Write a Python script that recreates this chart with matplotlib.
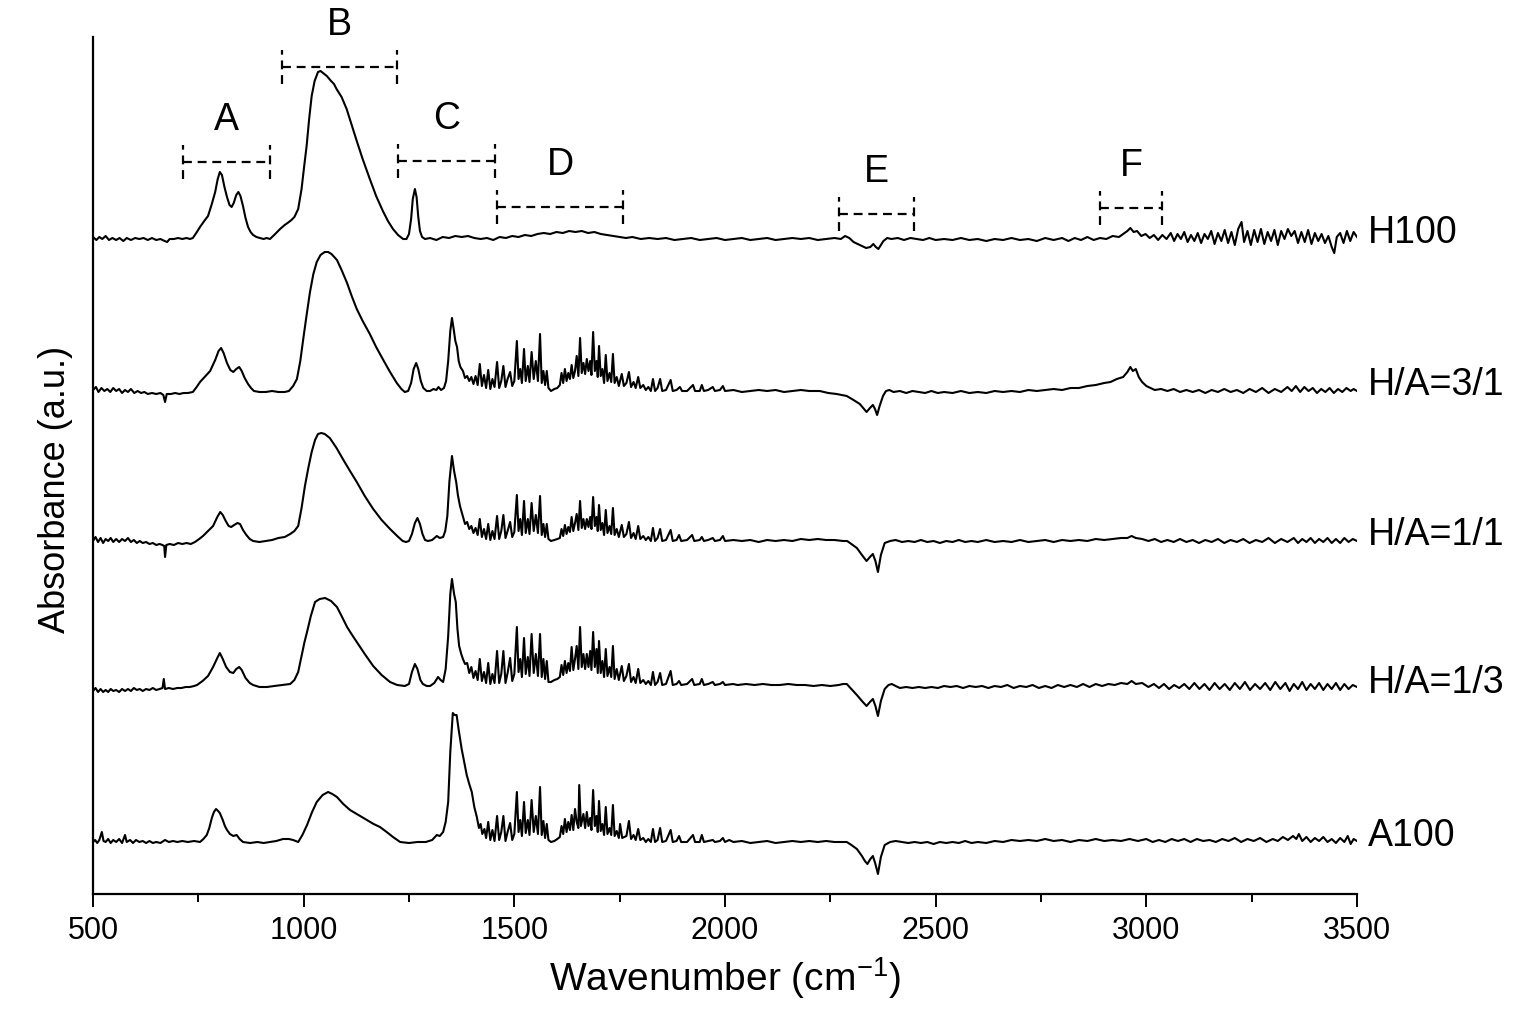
import numpy as np
import matplotlib
matplotlib.use("Agg")
import matplotlib.pyplot as plt
from matplotlib.ticker import MultipleLocator

plt.rcParams['font.family'] = ['Liberation Sans', 'DejaVu Sans']
plt.rcParams['mathtext.fontset'] = 'custom'
plt.rcParams['mathtext.rm'] = 'Liberation Sans'

# spectra: (wavenumber cm-1, absorbance a.u. above own baseline)
h100 = [
    (500, 0.02), (508, -0.01), (515, 0.02), (522, 0.0), (530, 0.03), (538, -0.01), (546, 0.01), (555, -0.01),
    (563, 0.01), (572, -0.02), (580, 0.01), (590, -0.01), (600, 0.01), (610, 0.0), (620, 0.01), (630, -0.01),
    (640, 0.01), (650, -0.01), (660, 0.0), (670, -0.02), (676, -0.03), (682, 0.0), (692, 0.0), (702, 0.01),
    (712, 0.0), (722, 0.01), (730, 0.0), (737, 0.01), (745, 0.06), (754, 0.12), (764, 0.18), (773, 0.23),
    (782, 0.35), (790, 0.47), (796, 0.60), (801, 0.67), (806, 0.64), (812, 0.52), (818, 0.42), (824, 0.34),
    (829, 0.32), (834, 0.36), (840, 0.44), (845, 0.47), (850, 0.43), (856, 0.33), (862, 0.21), (868, 0.12),
    (874, 0.07), (880, 0.04), (888, 0.02), (896, 0.01), (905, 0.0), (912, 0.01), (920, 0.0), (930, 0.04),
    (944, 0.10), (955, 0.14), (965, 0.17), (971, 0.19), (978, 0.22), (987, 0.30), (995, 0.50), (1001, 0.72),
    (1007, 0.93), (1013, 1.20), (1019, 1.43), (1026, 1.58), (1034, 1.67), (1040, 1.68), (1046, 1.66),
    (1055, 1.63), (1065, 1.58), (1072, 1.55), (1078, 1.50), (1090, 1.42), (1102, 1.30), (1114, 1.14),
    (1126, 0.98), (1140, 0.80), (1157, 0.60), (1172, 0.43), (1188, 0.28), (1200, 0.18), (1212, 0.10),
    (1224, 0.04), (1236, 0.0), (1244, 0.0), (1250, 0.05), (1255, 0.20), (1259, 0.40), (1264, 0.50),
    (1268, 0.42), (1272, 0.22), (1276, 0.08), (1281, 0.02), (1288, 0.0), (1300, 0.01), (1315, -0.01),
    (1330, 0.02), (1345, 0.01), (1360, 0.03), (1375, 0.02), (1390, 0.03), (1405, 0.01), (1420, 0.0),
    (1435, 0.01), (1450, -0.01), (1465, 0.02), (1480, 0.01), (1495, 0.03), (1510, 0.02), (1525, 0.04),
    (1540, 0.03), (1555, 0.05), (1570, 0.06), (1585, 0.05), (1600, 0.07), (1615, 0.06), (1630, 0.08),
    (1645, 0.07), (1660, 0.08), (1675, 0.06), (1690, 0.07), (1705, 0.05), (1720, 0.04), (1735, 0.03),
    (1750, 0.02), (1765, 0.01), (1780, 0.02), (1800, 0.0), (1820, 0.01), (1840, 0.0), (1860, 0.01),
    (1880, -0.01), (1900, 0.0), (1920, 0.01), (1940, -0.01), (1960, 0.0), (1980, 0.01), (2000, -0.01),
    (2020, 0.0), (2040, 0.01), (2060, -0.01), (2080, 0.0), (2100, 0.01), (2120, -0.01), (2140, 0.0),
    (2160, 0.01), (2180, 0.0), (2200, 0.01), (2220, -0.01), (2240, 0.0), (2260, 0.01), (2275, 0.0),
    (2285, 0.03), (2295, 0.01), (2305, -0.03), (2315, -0.05), (2325, -0.07), (2335, -0.09), (2345, -0.08),
    (2352, -0.05), (2358, -0.08), (2364, -0.10), (2370, -0.06), (2376, -0.02), (2385, 0.01), (2395, 0.0),
    (2410, 0.01), (2425, -0.01), (2440, 0.01), (2455, 0.0), (2470, -0.01), (2485, 0.01), (2500, -0.01),
    (2520, 0.0), (2540, -0.01), (2560, 0.01), (2580, -0.01), (2600, 0.0), (2620, -0.02), (2640, 0.0),
    (2660, -0.01), (2680, 0.01), (2700, -0.01), (2720, 0.0), (2740, -0.02), (2760, 0.01), (2780, -0.01),
    (2800, 0.01), (2815, -0.02), (2830, 0.01), (2845, -0.01), (2860, 0.02), (2875, -0.01), (2890, 0.01),
    (2905, 0.0), (2920, 0.03), (2935, 0.02), (2945, 0.05), (2955, 0.08), (2962, 0.11), (2970, 0.07),
    (2978, 0.08), (2988, 0.03), (2998, 0.05), (3008, 0.01), (3018, 0.04), (3028, -0.01), (3038, 0.04),
    (3048, 0.0), (3058, 0.06), (3066, -0.02), (3074, 0.05), (3082, 0.0), (3090, 0.07), (3098, -0.03),
    (3106, 0.04), (3114, -0.02), (3122, 0.06), (3130, -0.04), (3138, 0.05), (3146, 0.0), (3154, 0.08),
    (3162, -0.05), (3170, 0.06), (3178, -0.02), (3186, 0.09), (3194, -0.04), (3202, 0.07), (3210, -0.06),
    (3218, 0.10), (3226, 0.17), (3232, -0.03), (3240, 0.08), (3248, -0.06), (3256, 0.09), (3264, -0.03),
    (3272, 0.10), (3280, -0.05), (3288, 0.07), (3296, -0.02), (3304, 0.09), (3312, -0.06), (3320, 0.08),
    (3328, 0.0), (3336, 0.10), (3344, 0.03), (3352, 0.08), (3360, -0.04), (3368, 0.07), (3376, -0.03),
    (3384, 0.09), (3392, -0.05), (3400, 0.06), (3408, -0.02), (3416, 0.05), (3424, -0.04), (3432, 0.03),
    (3440, -0.08), (3446, -0.14), (3452, 0.02), (3460, 0.06), (3468, -0.04), (3476, 0.08), (3484, -0.02),
    (3492, 0.07), (3500, 0.02),
]

ha_3_1 = [
    (500, 0.01), (507, 0.04), (513, -0.01), (520, 0.03), (527, 0.0), (534, 0.02), (541, -0.01), (548, 0.03),
    (555, 0.0), (562, 0.02), (569, -0.02), (576, 0.01), (583, -0.01), (590, 0.02), (598, -0.02), (606, 0.0),
    (614, -0.02), (622, -0.01), (630, -0.03), (640, -0.02), (650, -0.03), (660, -0.02), (667, -0.04),
    (671, -0.11), (675, -0.03), (685, -0.03), (695, -0.02), (705, -0.03), (715, -0.02), (725, -0.02),
    (737, -0.01), (746, 0.04), (754, 0.09), (765, 0.14), (778, 0.20), (790, 0.31), (798, 0.40), (804, 0.43),
    (810, 0.38), (818, 0.28), (826, 0.21), (833, 0.19), (840, 0.22), (847, 0.24), (853, 0.20), (860, 0.13),
    (868, 0.07), (875, 0.03), (882, 0.0), (895, -0.01), (910, -0.01), (925, 0.0), (940, -0.01), (955, -0.01),
    (965, 0.0), (975, 0.05), (984, 0.12), (992, 0.30), (999, 0.52), (1007, 0.76), (1015, 0.99), (1023, 1.17),
    (1031, 1.29), (1040, 1.36), (1050, 1.39), (1058, 1.39), (1066, 1.37), (1079, 1.31), (1090, 1.21),
    (1103, 1.08), (1114, 0.95), (1126, 0.82), (1140, 0.70), (1157, 0.57), (1172, 0.44), (1189, 0.31),
    (1205, 0.19), (1221, 0.08), (1232, 0.02), (1240, -0.01), (1248, 0.0), (1255, 0.08), (1261, 0.22),
    (1267, 0.28), (1272, 0.22), (1278, 0.10), (1284, 0.03), (1292, 0.0), (1300, 0.0), (1308, 0.02),
    (1315, 0.01), (1320, 0.04), (1326, 0.01), (1333, 0.03), (1338, 0.10), (1343, 0.30), (1348, 0.60),
    (1352, 0.73), (1356, 0.62), (1360, 0.50), (1364, 0.44), (1368, 0.30), (1372, 0.24), (1378, 0.20),
    (1383, 0.13), (1388, 0.15), (1393, 0.10), (1398, 0.14), (1403, 0.07), (1408, 0.15), (1413, 0.06),
    (1418, 0.27), (1423, 0.05), (1428, 0.16), (1433, 0.03), (1438, 0.21), (1443, 0.02), (1448, 0.12),
    (1453, 0.04), (1459, 0.29), (1464, 0.03), (1469, 0.10), (1474, 0.25), (1479, 0.04), (1484, 0.12),
    (1490, 0.19), (1495, 0.05), (1500, 0.10), (1506, 0.50), (1510, 0.12), (1514, 0.22), (1518, 0.08),
    (1523, 0.42), (1527, 0.10), (1532, 0.25), (1536, 0.09), (1541, 0.39), (1546, 0.12), (1551, 0.30),
    (1556, 0.10), (1561, 0.57), (1565, 0.08), (1569, 0.20), (1573, 0.06), (1577, 0.20), (1581, 0.03),
    (1587, 0.0), (1595, 0.02), (1602, 0.03), (1608, 0.06), (1612, 0.18), (1616, 0.08), (1620, 0.22),
    (1624, 0.10), (1628, 0.18), (1632, 0.12), (1636, 0.26), (1640, 0.13), (1644, 0.20), (1648, 0.35),
    (1652, 0.15), (1656, 0.53), (1660, 0.18), (1664, 0.28), (1668, 0.17), (1672, 0.32), (1676, 0.20),
    (1680, 0.30), (1683, 0.16), (1687, 0.59), (1691, 0.20), (1695, 0.30), (1698, 0.14), (1701, 0.45),
    (1705, 0.15), (1709, 0.22), (1713, 0.08), (1717, 0.36), (1721, 0.10), (1726, 0.18), (1730, 0.09),
    (1734, 0.37), (1738, 0.08), (1743, 0.14), (1748, 0.05), (1755, 0.17), (1760, 0.05), (1766, 0.08),
    (1772, 0.19), (1777, 0.04), (1783, 0.09), (1788, 0.03), (1794, 0.14), (1799, 0.03), (1806, 0.06),
    (1812, 0.01), (1818, 0.04), (1824, 0.0), (1829, 0.12), (1834, 0.0), (1840, 0.03), (1846, 0.12),
    (1851, 0.0), (1860, 0.01), (1871, 0.11), (1876, 0.0), (1885, 0.01), (1893, 0.04), (1898, 0.0),
    (1910, 0.0), (1924, 0.06), (1929, 0.0), (1940, 0.0), (1945, 0.06), (1950, 0.0), (1960, 0.01),
    (1971, 0.04), (1976, 0.0), (1988, 0.01), (1995, 0.05), (2000, 0.0), (2020, 0.01), (2040, -0.01),
    (2060, 0.0), (2080, 0.01), (2100, 0.0), (2120, 0.01), (2140, -0.01), (2160, 0.0), (2180, 0.01),
    (2200, 0.0), (2225, 0.0), (2245, -0.02), (2265, -0.03), (2289, -0.05), (2305, -0.09), (2320, -0.13),
    (2330, -0.18), (2336, -0.21), (2344, -0.17), (2351, -0.14), (2356, -0.18), (2361, -0.24), (2367, -0.15),
    (2375, -0.05), (2382, 0.0), (2390, 0.01), (2400, -0.01), (2415, 0.0), (2430, -0.02), (2445, 0.0),
    (2460, -0.01), (2475, -0.02), (2490, 0.0), (2505, -0.02), (2520, -0.01), (2540, -0.02), (2560, 0.0),
    (2580, -0.02), (2600, -0.01), (2620, -0.02), (2640, 0.0), (2660, -0.01), (2680, 0.0), (2700, -0.01),
    (2720, 0.01), (2740, 0.0), (2760, 0.01), (2780, 0.02), (2800, 0.01), (2820, 0.03), (2840, 0.03),
    (2860, 0.05), (2880, 0.06), (2900, 0.08), (2915, 0.09), (2930, 0.12), (2945, 0.14), (2955, 0.19),
    (2962, 0.24), (2968, 0.20), (2975, 0.22), (2982, 0.14), (2990, 0.09), (3000, 0.05), (3010, 0.03),
    (3020, 0.01), (3035, 0.02), (3050, 0.0), (3065, 0.02), (3080, -0.01), (3095, 0.01), (3110, -0.01),
    (3125, 0.01), (3140, -0.02), (3155, 0.01), (3170, -0.01), (3185, 0.02), (3200, -0.01), (3215, 0.01),
    (3230, -0.02), (3245, 0.02), (3260, -0.01), (3275, 0.03), (3290, -0.02), (3305, 0.02), (3320, -0.01),
    (3335, 0.04), (3345, 0.0), (3355, 0.05), (3365, -0.01), (3375, 0.04), (3385, 0.0), (3395, 0.03),
    (3405, -0.02), (3415, 0.02), (3425, -0.01), (3435, 0.03), (3445, -0.02), (3455, 0.02), (3465, -0.01),
    (3475, 0.03), (3485, 0.0), (3492, 0.02), (3500, 0.0),
]

ha_1_1 = [
    (500, 0.0), (506, 0.04), (512, -0.01), (518, 0.03), (524, -0.02), (530, 0.02), (536, 0.0), (542, 0.03),
    (548, -0.01), (555, 0.02), (562, -0.01), (569, 0.02), (576, 0.0), (583, 0.03), (590, -0.01), (597, 0.01),
    (604, -0.02), (611, 0.0), (618, -0.02), (626, -0.01), (634, -0.03), (642, -0.02), (650, -0.04),
    (658, -0.03), (665, -0.04), (669, -0.05), (671, -0.16), (674, -0.04), (682, -0.03), (692, -0.04),
    (702, -0.02), (712, -0.03), (722, -0.02), (732, -0.03), (742, -0.01), (752, 0.02), (761, 0.05),
    (773, 0.10), (785, 0.15), (795, 0.24), (802, 0.29), (808, 0.26), (815, 0.20), (822, 0.15), (828, 0.14),
    (835, 0.16), (843, 0.18), (849, 0.17), (856, 0.11), (864, 0.06), (872, 0.02), (880, 0.0), (895, -0.01),
    (910, 0.0), (925, 0.01), (940, 0.03), (955, 0.04), (968, 0.07), (978, 0.10), (987, 0.15), (995, 0.33),
    (1003, 0.55), (1011, 0.73), (1019, 0.89), (1027, 1.01), (1034, 1.07), (1042, 1.08), (1050, 1.07),
    (1062, 1.03), (1078, 0.93), (1093, 0.82), (1110, 0.70), (1126, 0.59), (1145, 0.45), (1165, 0.32),
    (1185, 0.21), (1205, 0.12), (1222, 0.05), (1235, 0.0), (1243, -0.01), (1250, 0.0), (1257, 0.07),
    (1264, 0.18), (1270, 0.23), (1276, 0.17), (1282, 0.07), (1288, 0.01), (1295, 0.0), (1305, 0.01),
    (1316, 0.05), (1323, 0.03), (1331, 0.04), (1336, 0.10), (1341, 0.25), (1346, 0.60), (1352, 0.85),
    (1357, 0.70), (1362, 0.59), (1366, 0.46), (1371, 0.35), (1377, 0.26), (1383, 0.17), (1388, 0.19),
    (1393, 0.12), (1398, 0.15), (1403, 0.08), (1408, 0.13), (1413, 0.06), (1418, 0.22), (1423, 0.04),
    (1428, 0.12), (1433, 0.02), (1438, 0.17), (1443, 0.01), (1448, 0.10), (1453, 0.02), (1459, 0.25),
    (1464, 0.02), (1469, 0.10), (1474, 0.26), (1479, 0.03), (1484, 0.10), (1490, 0.19), (1495, 0.04),
    (1500, 0.09), (1506, 0.46), (1510, 0.10), (1514, 0.22), (1518, 0.06), (1523, 0.40), (1527, 0.08),
    (1532, 0.22), (1536, 0.07), (1541, 0.38), (1546, 0.10), (1551, 0.26), (1556, 0.08), (1561, 0.45),
    (1565, 0.06), (1569, 0.17), (1573, 0.04), (1577, 0.17), (1581, 0.02), (1587, 0.0), (1595, 0.01),
    (1602, 0.02), (1608, 0.03), (1612, 0.12), (1616, 0.05), (1620, 0.16), (1624, 0.07), (1628, 0.14),
    (1632, 0.09), (1636, 0.24), (1640, 0.10), (1644, 0.18), (1648, 0.27), (1652, 0.11), (1656, 0.40),
    (1660, 0.13), (1664, 0.22), (1668, 0.12), (1672, 0.22), (1676, 0.14), (1680, 0.24), (1683, 0.12),
    (1687, 0.44), (1691, 0.15), (1695, 0.24), (1698, 0.10), (1701, 0.36), (1705, 0.11), (1709, 0.18),
    (1713, 0.06), (1717, 0.31), (1721, 0.08), (1726, 0.15), (1730, 0.07), (1734, 0.33), (1738, 0.06),
    (1743, 0.12), (1748, 0.04), (1755, 0.16), (1760, 0.04), (1766, 0.07), (1772, 0.19), (1777, 0.03),
    (1783, 0.08), (1788, 0.02), (1794, 0.15), (1799, 0.02), (1806, 0.05), (1812, 0.01), (1818, 0.04),
    (1824, 0.0), (1829, 0.13), (1834, 0.0), (1840, 0.03), (1846, 0.12), (1851, 0.0), (1860, 0.01),
    (1871, 0.11), (1876, 0.0), (1885, 0.01), (1891, 0.06), (1896, 0.0), (1910, 0.01), (1922, 0.06),
    (1927, 0.0), (1940, 0.01), (1945, 0.04), (1950, 0.0), (1960, 0.01), (1971, 0.03), (1976, 0.0),
    (1988, 0.01), (1995, 0.05), (2000, 0.0), (2020, 0.01), (2040, 0.0), (2060, 0.01), (2080, -0.01),
    (2100, 0.01), (2120, 0.0), (2140, 0.01), (2160, 0.0), (2180, 0.02), (2200, 0.01), (2220, 0.02),
    (2240, 0.01), (2260, 0.01), (2280, 0.0), (2290, 0.0), (2300, -0.03), (2313, -0.07), (2325, -0.14),
    (2336, -0.20), (2344, -0.16), (2351, -0.13), (2357, -0.20), (2363, -0.31), (2370, -0.14), (2379, -0.02),
    (2392, 0.0), (2405, 0.01), (2420, -0.01), (2435, 0.0), (2450, -0.01), (2465, 0.01), (2480, -0.01),
    (2495, 0.0), (2510, -0.02), (2525, 0.0), (2540, -0.01), (2555, 0.01), (2570, -0.01), (2585, 0.0),
    (2600, -0.01), (2620, 0.01), (2640, -0.01), (2660, 0.0), (2680, -0.01), (2700, 0.01), (2720, -0.01),
    (2740, 0.0), (2760, 0.01), (2780, -0.01), (2800, 0.01), (2820, 0.0), (2840, 0.01), (2860, 0.0),
    (2880, 0.02), (2900, 0.01), (2920, 0.02), (2940, 0.03), (2955, 0.03), (2965, 0.05), (2975, 0.03),
    (2990, 0.02), (3005, 0.0), (3020, 0.02), (3035, -0.01), (3050, 0.01), (3065, -0.01), (3080, 0.02),
    (3095, -0.01), (3110, 0.01), (3125, -0.02), (3140, 0.01), (3155, -0.01), (3170, 0.02), (3185, -0.02),
    (3200, 0.01), (3215, -0.01), (3230, 0.02), (3245, -0.02), (3260, 0.01), (3275, -0.01), (3290, 0.03),
    (3305, -0.02), (3320, 0.02), (3335, -0.01), (3350, 0.03), (3360, -0.02), (3370, 0.02), (3380, -0.01),
    (3390, 0.03), (3400, -0.02), (3410, 0.02), (3420, -0.01), (3430, 0.03), (3440, -0.02), (3450, 0.02),
    (3460, -0.02), (3470, 0.03), (3480, -0.01), (3490, 0.02), (3500, 0.0),
]

ha_1_3 = [
    (500, -0.02), (506, 0.01), (512, -0.03), (518, 0.0), (524, -0.03), (530, -0.01), (536, -0.03), (542, 0.0),
    (548, -0.02), (555, -0.01), (562, -0.03), (569, 0.0), (576, -0.02), (583, 0.0), (590, -0.02), (597, 0.01),
    (604, -0.01), (611, 0.0), (618, -0.02), (626, 0.0), (634, -0.01), (642, 0.01), (650, -0.01), (658, 0.0),
    (665, 0.01), (668, 0.10), (671, 0.0), (680, 0.01), (690, 0.0), (700, 0.01), (710, 0.01), (720, 0.02),
    (730, 0.02), (740, 0.03), (747, 0.04), (760, 0.08), (773, 0.13), (785, 0.22), (795, 0.31), (801, 0.36),
    (808, 0.30), (816, 0.22), (825, 0.17), (833, 0.16), (840, 0.20), (847, 0.22), (853, 0.19), (862, 0.11),
    (872, 0.06), (880, 0.04), (895, 0.02), (913, 0.02), (930, 0.03), (950, 0.04), (968, 0.05), (978, 0.09),
    (987, 0.17), (995, 0.33), (1002, 0.47), (1008, 0.57), (1017, 0.73), (1027, 0.87), (1038, 0.90),
    (1051, 0.91), (1065, 0.88), (1079, 0.82), (1090, 0.73), (1103, 0.62), (1115, 0.54), (1126, 0.47),
    (1145, 0.35), (1165, 0.23), (1185, 0.14), (1205, 0.07), (1222, 0.04), (1240, 0.03), (1250, 0.05),
    (1257, 0.17), (1264, 0.25), (1270, 0.20), (1277, 0.09), (1283, 0.05), (1292, 0.03), (1300, 0.03),
    (1310, 0.06), (1319, 0.12), (1325, 0.09), (1331, 0.07), (1337, 0.20), (1343, 0.53), (1348, 0.95),
    (1352, 1.10), (1357, 0.95), (1361, 0.87), (1365, 0.60), (1369, 0.43), (1374, 0.35), (1378, 0.30),
    (1383, 0.25), (1388, 0.26), (1393, 0.16), (1398, 0.22), (1403, 0.11), (1408, 0.18), (1413, 0.09),
    (1418, 0.30), (1423, 0.08), (1428, 0.17), (1433, 0.06), (1438, 0.26), (1443, 0.05), (1448, 0.15),
    (1453, 0.06), (1459, 0.38), (1464, 0.06), (1469, 0.15), (1474, 0.38), (1479, 0.06), (1484, 0.16),
    (1490, 0.31), (1495, 0.08), (1500, 0.15), (1506, 0.62), (1510, 0.17), (1514, 0.30), (1518, 0.12),
    (1523, 0.51), (1527, 0.15), (1532, 0.32), (1536, 0.13), (1541, 0.55), (1546, 0.16), (1551, 0.35),
    (1556, 0.13), (1561, 0.55), (1565, 0.12), (1569, 0.30), (1573, 0.10), (1577, 0.28), (1581, 0.07),
    (1587, 0.07), (1595, 0.09), (1602, 0.10), (1608, 0.12), (1612, 0.24), (1616, 0.14), (1620, 0.28),
    (1624, 0.16), (1628, 0.26), (1632, 0.18), (1636, 0.42), (1640, 0.19), (1644, 0.30), (1648, 0.43),
    (1652, 0.20), (1656, 0.62), (1660, 0.22), (1664, 0.35), (1668, 0.20), (1672, 0.35), (1676, 0.22),
    (1680, 0.38), (1683, 0.19), (1687, 0.57), (1691, 0.22), (1695, 0.40), (1698, 0.16), (1701, 0.48),
    (1705, 0.16), (1709, 0.28), (1713, 0.12), (1717, 0.40), (1721, 0.13), (1726, 0.22), (1730, 0.12),
    (1734, 0.43), (1738, 0.10), (1743, 0.20), (1748, 0.09), (1755, 0.23), (1760, 0.08), (1766, 0.13),
    (1772, 0.25), (1777, 0.07), (1783, 0.12), (1788, 0.06), (1794, 0.20), (1799, 0.06), (1806, 0.09),
    (1812, 0.05), (1818, 0.08), (1824, 0.04), (1829, 0.17), (1834, 0.04), (1840, 0.07), (1846, 0.16),
    (1851, 0.04), (1860, 0.05), (1871, 0.18), (1876, 0.04), (1885, 0.05), (1891, 0.08), (1896, 0.04),
    (1910, 0.05), (1922, 0.10), (1927, 0.04), (1940, 0.05), (1945, 0.10), (1950, 0.04), (1960, 0.05),
    (1971, 0.07), (1976, 0.04), (1988, 0.05), (1995, 0.07), (2000, 0.04), (2019, 0.05), (2030, 0.04),
    (2050, 0.05), (2070, 0.04), (2090, 0.05), (2110, 0.04), (2130, 0.04), (2150, 0.05), (2170, 0.04),
    (2190, 0.04), (2210, 0.03), (2230, 0.04), (2250, 0.03), (2270, 0.04), (2280, 0.05), (2289, 0.05),
    (2300, 0.0), (2313, -0.06), (2325, -0.12), (2336, -0.17), (2344, -0.13), (2351, -0.10), (2357, -0.17),
    (2363, -0.27), (2370, -0.12), (2379, 0.0), (2388, 0.04), (2396, 0.05), (2405, 0.03), (2415, 0.01),
    (2430, 0.02), (2445, 0.01), (2460, 0.02), (2475, 0.01), (2490, 0.02), (2505, 0.01), (2520, 0.03),
    (2535, 0.02), (2550, 0.03), (2565, 0.01), (2580, 0.03), (2595, 0.02), (2610, 0.03), (2625, 0.01),
    (2640, 0.03), (2655, 0.02), (2670, 0.04), (2685, 0.01), (2700, 0.03), (2715, 0.02), (2730, 0.04),
    (2745, 0.01), (2760, 0.03), (2775, 0.01), (2790, 0.04), (2805, 0.02), (2820, 0.04), (2835, 0.02),
    (2850, 0.05), (2865, 0.02), (2880, 0.05), (2895, 0.03), (2910, 0.05), (2925, 0.04), (2940, 0.06),
    (2955, 0.05), (2965, 0.08), (2975, 0.05), (2990, 0.06), (3005, 0.02), (3018, 0.05), (3030, 0.01),
    (3042, 0.05), (3054, 0.0), (3066, 0.04), (3078, 0.01), (3090, 0.05), (3102, 0.0), (3114, 0.06),
    (3126, 0.0), (3138, 0.05), (3150, -0.01), (3162, 0.06), (3174, 0.0), (3186, 0.05), (3198, -0.01),
    (3210, 0.06), (3222, 0.0), (3234, 0.07), (3246, -0.01), (3258, 0.05), (3270, 0.0), (3282, 0.06),
    (3294, -0.01), (3306, 0.07), (3318, 0.0), (3330, 0.06), (3340, -0.02), (3350, 0.05), (3360, 0.0),
    (3370, 0.07), (3380, -0.01), (3390, 0.05), (3400, 0.0), (3410, 0.06), (3420, -0.01), (3430, 0.05),
    (3440, 0.0), (3450, 0.06), (3460, -0.01), (3470, 0.05), (3480, 0.0), (3490, 0.04), (3500, 0.02),
]

a100 = [
    (500, 0.0), (505, 0.02), (510, -0.01), (515, 0.02), (521, 0.10), (525, 0.01), (530, 0.0), (536, 0.03),
    (542, -0.01), (548, 0.02), (555, 0.0), (562, 0.03), (569, -0.01), (576, 0.07), (580, 0.0), (588, 0.02),
    (595, -0.01), (602, 0.02), (610, 0.0), (618, 0.01), (626, -0.01), (634, 0.01), (642, -0.01), (650, 0.0),
    (660, -0.01), (671, 0.02), (680, 0.0), (690, 0.01), (700, 0.0), (712, 0.01), (725, 0.0), (740, 0.01),
    (754, 0.0), (762, 0.03), (770, 0.07), (776, 0.14), (782, 0.24), (787, 0.30), (792, 0.33), (797, 0.31),
    (801, 0.29), (808, 0.22), (813, 0.16), (818, 0.12), (825, 0.08), (833, 0.06), (841, 0.07), (848, 0.03),
    (856, 0.0), (873, -0.01), (890, 0.0), (905, -0.01), (920, 0.0), (935, 0.01), (951, 0.03), (965, 0.03),
    (975, 0.02), (987, 0.0), (997, 0.07), (1008, 0.17), (1020, 0.30), (1031, 0.40), (1045, 0.47),
    (1058, 0.50), (1068, 0.48), (1079, 0.45), (1094, 0.38), (1110, 0.32), (1130, 0.27), (1150, 0.22),
    (1166, 0.18), (1181, 0.15), (1197, 0.10), (1212, 0.05), (1229, 0.0), (1250, -0.01), (1270, 0.0),
    (1290, 0.0), (1305, 0.02), (1316, 0.07), (1323, 0.06), (1331, 0.10), (1337, 0.20), (1343, 0.40),
    (1348, 0.90), (1354, 1.29), (1358, 1.27), (1363, 1.27), (1368, 1.12), (1375, 0.93), (1381, 0.80),
    (1387, 0.67), (1393, 0.58), (1399, 0.50), (1405, 0.35), (1411, 0.25), (1416, 0.14), (1420, 0.18),
    (1424, 0.08), (1429, 0.13), (1433, 0.04), (1438, 0.20), (1443, 0.02), (1448, 0.12), (1453, 0.01),
    (1459, 0.26), (1464, 0.02), (1469, 0.10), (1474, 0.26), (1479, 0.01), (1484, 0.10), (1490, 0.19),
    (1495, 0.02), (1500, 0.08), (1506, 0.50), (1510, 0.10), (1514, 0.22), (1518, 0.06), (1523, 0.40),
    (1527, 0.09), (1532, 0.22), (1536, 0.07), (1541, 0.42), (1546, 0.10), (1551, 0.26), (1556, 0.08),
    (1561, 0.55), (1565, 0.07), (1569, 0.21), (1573, 0.04), (1577, 0.18), (1581, 0.02), (1587, 0.0),
    (1595, 0.01), (1602, 0.03), (1608, 0.05), (1612, 0.16), (1616, 0.08), (1620, 0.23), (1624, 0.10),
    (1628, 0.20), (1632, 0.12), (1636, 0.27), (1640, 0.12), (1644, 0.33), (1648, 0.20), (1652, 0.14),
    (1654, 0.57), (1658, 0.16), (1664, 0.28), (1668, 0.14), (1672, 0.30), (1676, 0.16), (1680, 0.24),
    (1683, 0.12), (1687, 0.52), (1691, 0.16), (1695, 0.26), (1698, 0.10), (1701, 0.41), (1705, 0.11),
    (1709, 0.18), (1713, 0.07), (1717, 0.35), (1721, 0.08), (1726, 0.14), (1730, 0.07), (1734, 0.37),
    (1738, 0.06), (1743, 0.11), (1748, 0.04), (1751, 0.18), (1756, 0.04), (1766, 0.06), (1772, 0.21),
    (1777, 0.03), (1783, 0.07), (1788, 0.02), (1794, 0.13), (1799, 0.02), (1806, 0.04), (1812, 0.0),
    (1818, 0.03), (1824, 0.0), (1829, 0.13), (1834, 0.0), (1840, 0.02), (1846, 0.14), (1851, 0.0),
    (1860, 0.01), (1871, 0.12), (1876, 0.0), (1885, 0.01), (1891, 0.06), (1896, 0.0), (1910, 0.0),
    (1924, 0.07), (1929, 0.0), (1940, 0.0), (1945, 0.07), (1950, 0.0), (1960, 0.01), (1971, 0.02),
    (1976, 0.0), (1988, 0.01), (1995, 0.04), (2000, 0.0), (2010, 0.02), (2020, 0.0), (2040, 0.01),
    (2060, -0.01), (2080, 0.0), (2100, 0.01), (2120, -0.01), (2140, 0.0), (2160, 0.01), (2180, 0.0),
    (2200, 0.01), (2220, 0.0), (2240, 0.01), (2260, 0.0), (2280, 0.0), (2289, 0.0), (2300, -0.03),
    (2313, -0.07), (2325, -0.14), (2332, -0.19), (2338, -0.22), (2345, -0.17), (2351, -0.14), (2357, -0.22),
    (2363, -0.32), (2370, -0.15), (2379, -0.03), (2392, 0.0), (2405, 0.01), (2420, 0.0), (2435, -0.01),
    (2450, 0.0), (2465, -0.01), (2480, 0.0), (2495, -0.02), (2510, 0.0), (2525, -0.01), (2540, 0.0),
    (2555, -0.01), (2570, 0.01), (2585, -0.01), (2600, 0.0), (2620, -0.01), (2640, 0.01), (2660, 0.0),
    (2680, 0.02), (2700, 0.01), (2720, 0.02), (2740, 0.01), (2760, 0.03), (2780, 0.01), (2800, 0.02),
    (2820, 0.0), (2840, 0.02), (2860, 0.01), (2880, 0.03), (2900, 0.01), (2920, 0.02), (2940, 0.01),
    (2960, 0.03), (2980, 0.01), (3000, 0.03), (3015, 0.0), (3030, 0.02), (3045, 0.0), (3060, 0.03),
    (3075, 0.01), (3090, 0.03), (3105, 0.0), (3120, 0.03), (3135, 0.01), (3150, 0.02), (3165, 0.0),
    (3180, 0.03), (3195, 0.01), (3210, 0.04), (3225, 0.0), (3240, 0.03), (3255, 0.01), (3270, 0.04),
    (3285, 0.0), (3300, 0.03), (3312, 0.01), (3324, 0.05), (3336, 0.02), (3348, 0.06), (3356, 0.03),
    (3362, 0.08), (3370, 0.01), (3380, 0.05), (3390, 0.0), (3400, 0.04), (3410, 0.01), (3420, 0.05),
    (3430, 0.0), (3440, 0.03), (3450, -0.01), (3460, 0.04), (3470, 0.0), (3478, 0.06), (3485, -0.02),
    (3492, 0.03), (3500, 0.01),
]

spectra = [h100, ha_3_1, ha_1_1, ha_1_3, a100]
names = ['H100', 'H/A=3/1', 'H/A=1/1', 'H/A=1/3', 'A100']
offsets = [6.55, 5.03, 3.53, 2.05, 0.52]

# band regions marked above the spectra
region_names = ['A', 'B', 'C', 'D', 'E', 'F']
region_lo = [714, 949, 1224, 1459, 2271, 2890]
region_hi = [920, 1221, 1454, 1758, 2449, 3037]
region_level = [7.32, 8.27, 7.33, 6.87, 6.80, 6.86]

fig = plt.figure(figsize=(15.24, 10.2), dpi=100)
ax = fig.add_axes([93 / 1524, 1 - 895 / 1020, 1264 / 1524, 857 / 1020])

for spec, off in zip(spectra, offsets):
    arr = np.array(spec)
    ax.plot(arr[:, 0], arr[:, 1] + off, color='black', lw=1.5, solid_joinstyle='round')

for name, off in zip(names, offsets):
    ax.annotate(name, xy=(3500, off), xytext=(8, 5), textcoords='offset points',
                ha='left', va='center', fontsize=27, annotation_clip=False)

dash = (0, (4, 2.6))
for name, lo, hi, lev in zip(region_names, region_lo, region_hi, region_level):
    ax.plot([lo, hi], [lev, lev], color='black', lw=1.6, ls=dash, clip_on=False)
    for xe in (lo, hi):
        ax.plot([xe, xe], [lev - 0.17, lev + 0.17], color='black', lw=1.6, ls=dash, clip_on=False)
    ax.text((lo + hi) / 2, lev + 0.43, name, ha='center', va='center', fontsize=27, clip_on=False)

ax.set_xlim(500, 3500)
ax.set_ylim(0, 8.57)
ax.spines['top'].set_visible(False)
ax.spines['right'].set_visible(False)
ax.spines['left'].set_linewidth(1.6)
ax.spines['bottom'].set_linewidth(1.6)
ax.set_yticks([])
ax.xaxis.set_major_locator(MultipleLocator(500))
ax.xaxis.set_minor_locator(MultipleLocator(250))
ax.tick_params(axis='x', which='major', direction='out', length=9, width=1.4, labelsize=22, pad=6)
ax.tick_params(axis='x', which='minor', direction='out', length=6, width=1.4)

ax.set_xlabel('Wavenumber (cm$^{\\mathrm{-1}}$)', fontsize=28, labelpad=7)
ax.set_ylabel('Absorbance (a.u.)', fontsize=26)
ax.yaxis.set_label_coords(-0.016, 0.473)

fig.savefig('out.png', dpi=100)
